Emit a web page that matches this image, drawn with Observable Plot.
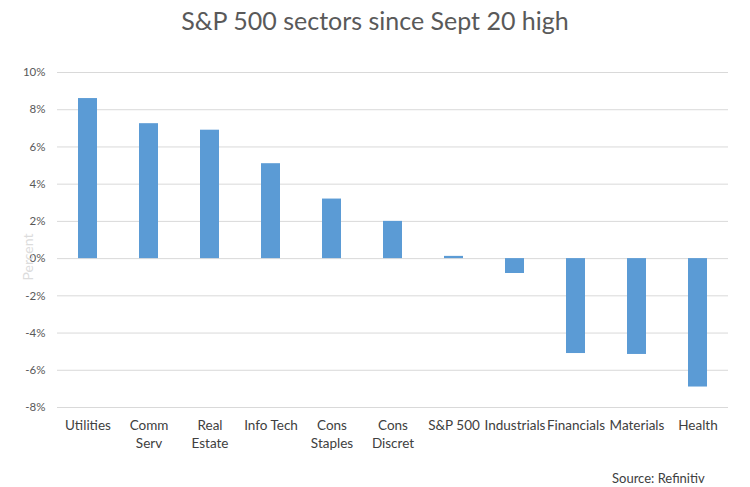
<!DOCTYPE html>
<html>
<head>
<meta charset="utf-8">
<script src="https://cdn.jsdelivr.net/npm/d3@7"></script>
<script src="https://cdn.jsdelivr.net/npm/@observablehq/plot@0.6"></script>
<style>
  html, body { margin: 0; padding: 0; background: #fff; }
  #wrap { position: relative; width: 750px; height: 487px; font-family: Lato, "Open Sans", sans-serif; }
  #title { position: absolute; top: 5px; left: 0; width: 750px; text-align: center; font-size: 25px; color: #595959; }
  #chart { position: absolute; top: 40px; left: 0; }
  #caption { position: absolute; top: 470px; left: 612px; font-size: 13px; color: #404040; }
</style>
</head>
<body>
<div id="wrap">
  <div id="title">S&amp;P 500 sectors since Sept 20 high</div>
  <div id="chart"></div>
  <div id="caption">Source: Refinitiv</div>
</div>
<script>
// Sector performance since the Sept 20 high, in percent
const sectors = ["Utilities", "Comm\nServ", "Real\nEstate", "Info Tech", "Cons\nStaples", "Cons\nDiscret", "S&P 500", "Industrials", "Financials", "Materials", "Health"];
const changes = [8.6, 7.25, 6.9, 5.1, 3.2, 2.0, 0.12, -0.8, -5.1, -5.15, -6.9];
const yTicks = [-8, -6, -4, -2, 0, 2, 4, 6, 8, 10];

const rows = sectors.map((s, i) => ({sector: s, change: changes[i]}));

const chart = Plot.plot({
  width: 750,
  height: 420,
  marginTop: 32,
  marginBottom: 53,
  marginLeft: 57,
  marginRight: 22,
  style: {fontFamily: "Lato, 'Open Sans', sans-serif", background: "#fff"},
  x: {domain: sectors, paddingInner: 0.69, paddingOuter: 0.345},
  y: {domain: [-8, 10]},
  marks: [
    Plot.gridY(yTicks, {stroke: "#d9d9d9", strokeOpacity: 1, strokeWidth: 1}),
    Plot.axisY(yTicks, {
      tickSize: 0, tickPadding: 12, fontSize: 11.5, fill: "#595959",
      tickFormat: d => d + "%",
      label: "Percent", labelAnchor: "center", labelOffset: 38, labelArrow: "none"
    }),
    Plot.axisX({
      tickSize: 0, tickPadding: 10, fontSize: 13.5, fill: "#404040",
      lineHeight: 1.3, label: null
    }),
    Plot.barY(rows, {x: "sector", y: "change", fill: "#5b9bd5"})
  ]
});
document.getElementById("chart").append(chart);
// the rotated axis title is drawn larger in a very pale grey, a little below the axis middle
chart.querySelectorAll("text").forEach(t => {
  if (t.textContent.trim() === "Percent") {
    t.setAttribute("fill", "#dcdcdc");
    t.setAttribute("font-size", "14");
    t.setAttribute("transform", (t.getAttribute("transform") || "") + " translate(-17,4)");
  }
});
</script>
</body>
</html>
